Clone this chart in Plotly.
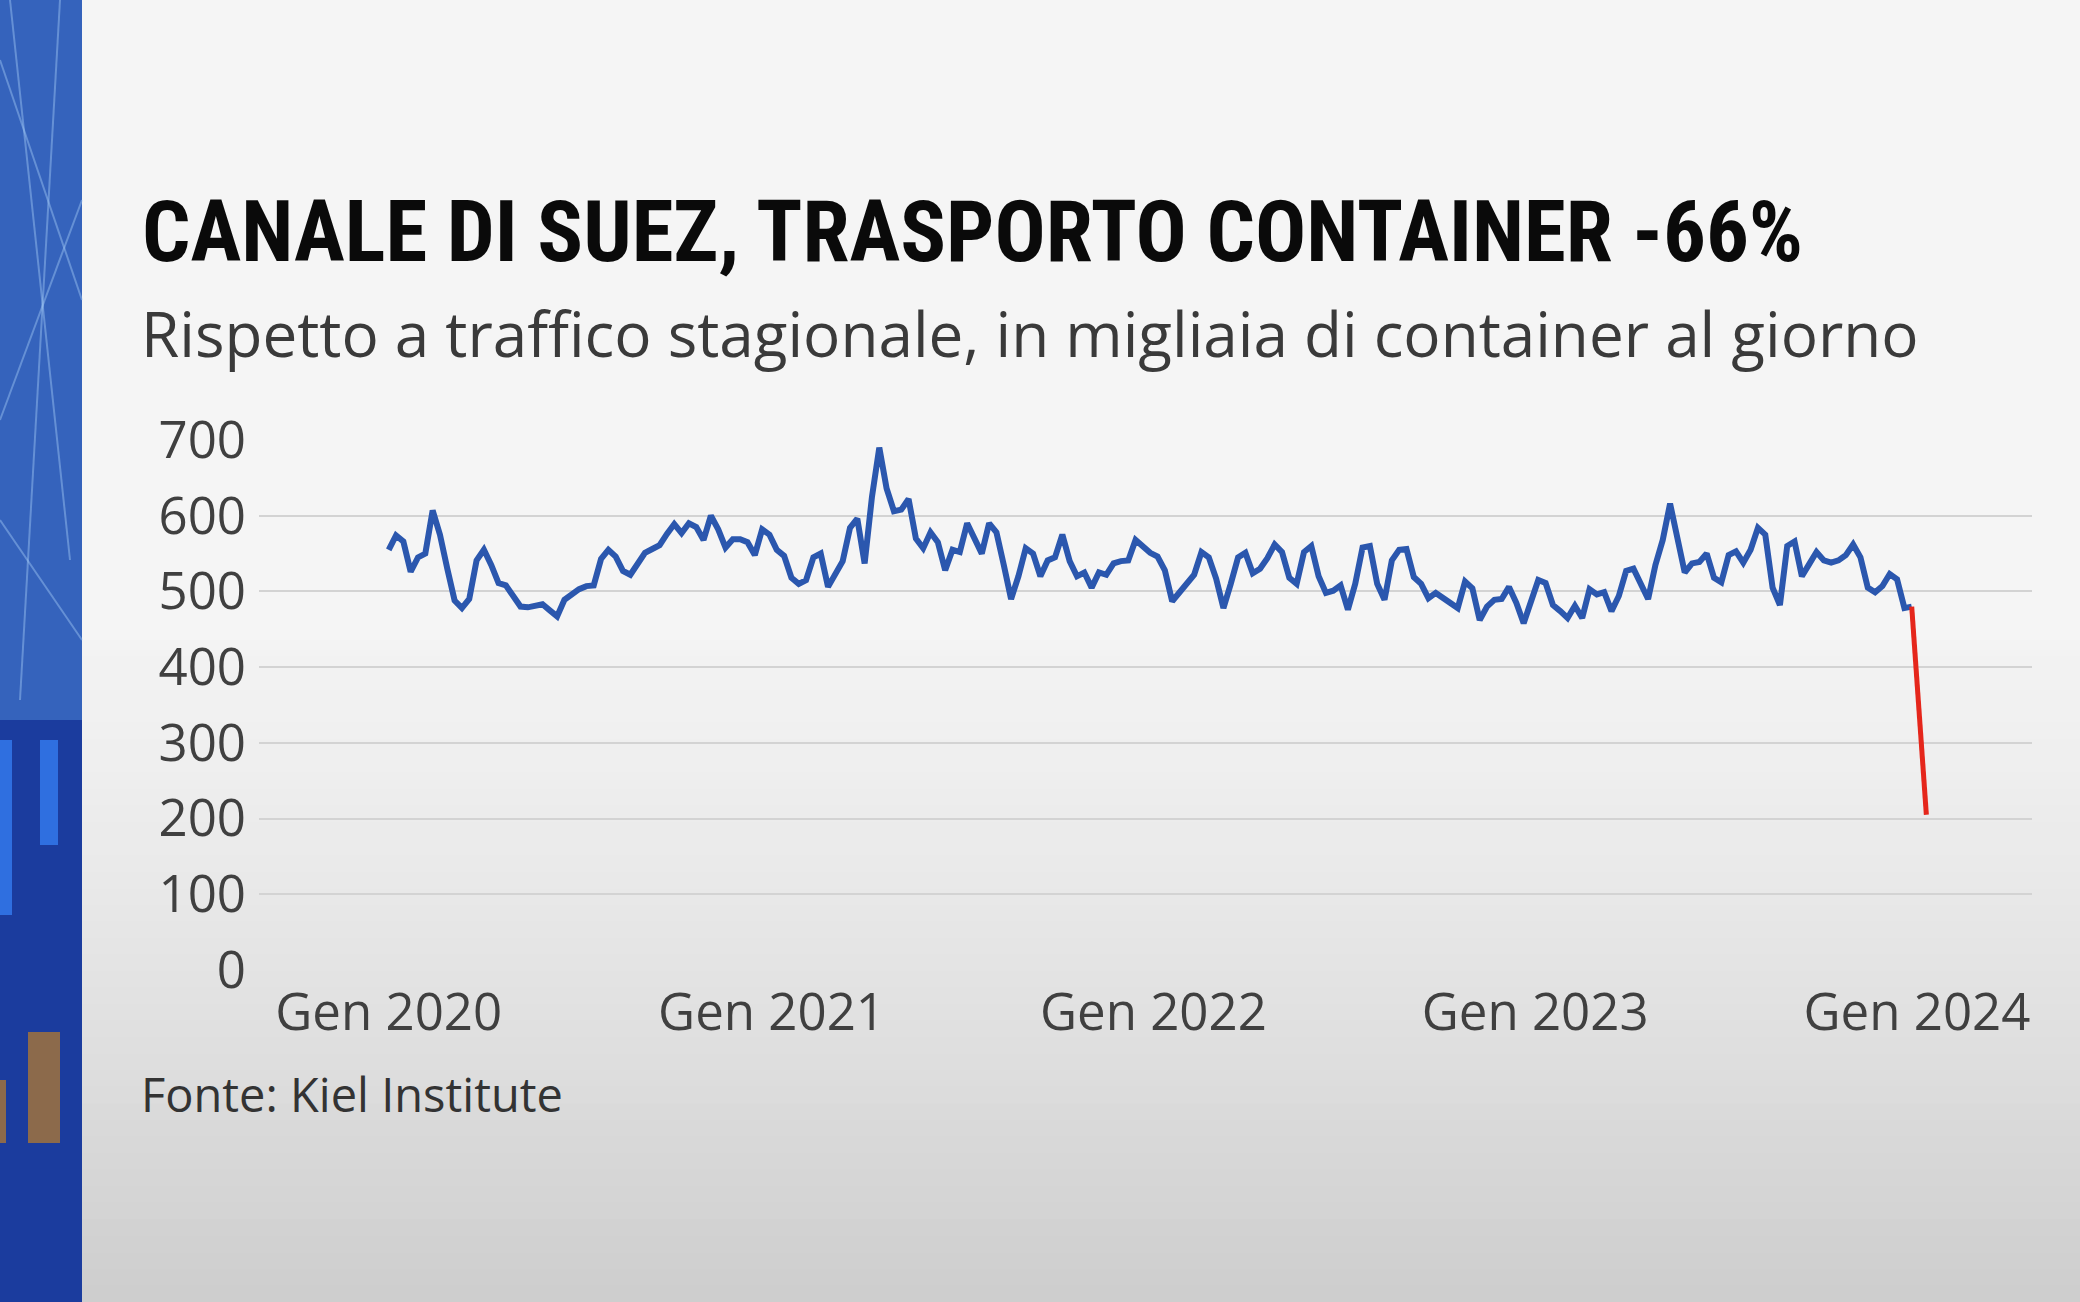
import plotly.graph_objects as go
import pandas as pd

# ---------------- data ----------------
title_text = "CANALE DI SUEZ, TRASPORTO CONTAINER -66%"
subtitle_text = "Rispetto a traffico stagionale, in migliaia di container al giorno"
source_text = "Fonte: Kiel Institute"

# weekly readings (thousand containers / day), first week starting 2020-01-01
week_start = "2020-01-01"
v2020 = [555, 574, 566, 526, 545, 550, 607, 575, 530, 488, 478, 490, 541, 555, 535, 511, 508, 493,
         480, 479, 482, 483, 475, 467, 489, 496, 503, 507, 508, 543, 555, 546, 527, 522, 535, 551,
         556, 561, 576, 589, 577, 590, 585, 568, 600, 582, 558, 569, 569, 565, 548, 582, 575]
v2021 = [555, 547, 518, 510, 515, 545, 550, 506, 523, 540, 584, 596, 537, 625, 690, 636, 606, 608,
         622, 570, 557, 578, 565, 528, 555, 552, 590, 570, 550, 590, 578, 535, 490, 520, 557, 550,
         520, 541, 545, 575, 540, 520, 525, 505, 525, 522, 537, 540, 541, 568, 559, 551]
v2022 = [546, 528, 487, 498, 510, 522, 552, 545, 517, 478, 510, 545, 551, 524, 530, 544, 562, 552,
         518, 510, 552, 560, 520, 498, 501, 508, 476, 510, 558, 560, 510, 489, 541, 555, 556, 519,
         510, 491, 498, 491, 484, 478, 513, 504, 462, 480, 489, 490, 506, 485, 458, 487]
v2023 = [515, 511, 482, 474, 465, 481, 465, 503, 496, 499, 474, 494, 527, 530, 510, 490, 535, 568,
         616, 570, 525, 537, 539, 550, 518, 512, 548, 553, 538, 555, 584, 575, 505, 482, 560, 566,
         520, 536, 552, 541, 538, 541, 548, 562, 545, 505, 499, 507, 523, 516, 478, 480]

# final collapse (red segment)
drop_dates = ["2023-12-27", "2024-01-10"]
drop_values = [480, 205]

x_tick_dates = ["2020-01-01", "2021-01-01", "2022-01-01", "2023-01-01", "2024-01-01"]
x_tick_labels = ["Gen 2020", "Gen 2021", "Gen 2022", "Gen 2023", "Gen 2024"]
y_ticks = [0, 100, 200, 300, 400, 500, 600, 700]

values = v2020 + v2021 + v2022 + v2023
dates = pd.date_range(week_start, periods=len(values), freq="7D")

# ---------------- layout geometry ----------------
W, H = 2080, 1302
L, R, T, B = 259, 48, 440, 332
PW, PH = W - L - R, H - T - B


def fx(px):
    return (px - L) / PW


def fy(py):
    return (H - B - py) / PH


fig = go.Figure()
fig.add_trace(go.Scatter(x=dates, y=values, mode="lines",
                         line=dict(color="#2B57AE", width=6), hoverinfo="skip",
                         showlegend=False))
fig.add_trace(go.Scatter(x=drop_dates, y=drop_values, mode="lines",
                         line=dict(color="#E5261B", width=5), hoverinfo="skip",
                         showlegend=False))

shapes = []
# background gradient (light grey getting darker towards the bottom)
n_bands = 40
top_px, bot_px = 640, H
for i in range(n_bands):
    y0 = top_px + (bot_px - top_px) * i / n_bands
    y1 = top_px + (bot_px - top_px) * (i + 1) / n_bands + 1
    g = int(243 - (243 - 206) * (i / (n_bands - 1)) ** 1.3)
    shapes.append(dict(type="rect", xref="paper", yref="paper", layer="below",
                       x0=fx(0), x1=fx(W), y0=fy(y1), y1=fy(y0),
                       fillcolor=f"rgb({g},{g},{g})", line=dict(width=0)))
# left blue studio strip
shapes.append(dict(type="rect", xref="paper", yref="paper", layer="below",
                   x0=fx(0), x1=fx(82), y0=fy(H), y1=fy(0),
                   fillcolor="#1B3C9E", line=dict(width=0)))
shapes.append(dict(type="rect", xref="paper", yref="paper", layer="below",
                   x0=fx(0), x1=fx(82), y0=fy(720), y1=fy(0),
                   fillcolor="#3563BC", line=dict(width=0)))
for x0, y0, x1, y1 in [(0, 60, 82, 300), (0, 420, 82, 200), (10, 0, 70, 560),
                       (0, 520, 82, 640), (60, 0, 20, 700)]:
    shapes.append(dict(type="line", xref="paper", yref="paper", layer="below",
                       x0=fx(x0), x1=fx(x1), y0=fy(y0), y1=fy(y1),
                       line=dict(color="rgba(160,200,245,0.45)", width=2)))
for x0, x1, y0, y1, c in [(0, 12, 740, 915, "#2F6FE0"), (40, 58, 740, 845, "#2F6FE0"),
                          (28, 60, 1032, 1143, "#8C6A4B"), (0, 6, 1080, 1143, "#8C6A4B")]:
    shapes.append(dict(type="rect", xref="paper", yref="paper", layer="below",
                       x0=fx(x0), x1=fx(x1), y0=fy(y1), y1=fy(y0),
                       fillcolor=c, line=dict(width=0)))

annotations = [
    dict(text=title_text, x=fx(140), y=fy(232), xref="paper", yref="paper",
         xanchor="left", yanchor="middle", showarrow=False,
         font=dict(family="Roboto Condensed, Liberation Sans Narrow, Roboto, sans-serif",
                   size=85, weight=700, color="#0A0A0A")),
    dict(text=subtitle_text, x=fx(139), y=fy(333), xref="paper", yref="paper",
         xanchor="left", yanchor="middle", showarrow=False,
         font=dict(family="Open Sans, sans-serif", size=62, color="#3A3A3A")),
    dict(text=source_text, x=fx(139), y=fy(1094), xref="paper", yref="paper",
         xanchor="left", yanchor="middle", showarrow=False,
         font=dict(family="Open Sans, sans-serif", size=47, color="#333333")),
]

fig.update_layout(
    width=W, height=H,
    margin=dict(l=L, r=R, t=T, b=B),
    paper_bgcolor="#F5F5F5",
    plot_bgcolor="rgba(0,0,0,0)",
    shapes=shapes,
    annotations=annotations,
    xaxis=dict(type="date", range=["2019-08-30", "2024-04-20"],
               tickmode="array", tickvals=x_tick_dates, ticktext=x_tick_labels,
               showgrid=False, zeroline=False, showline=False, ticks="",
               ticklabelstandoff=8,
               tickfont=dict(family="Open Sans, sans-serif", size=51, color="#404040")),
    yaxis=dict(range=[0, 700], tickmode="array", tickvals=y_ticks,
               showgrid=True, gridcolor="#D3D3D3", gridwidth=2,
               zeroline=False, showline=False, ticks="", ticklabelstandoff=12,
               tickfont=dict(family="Open Sans, sans-serif", size=51, color="#404040")),
)

fig.write_html("out.html")
